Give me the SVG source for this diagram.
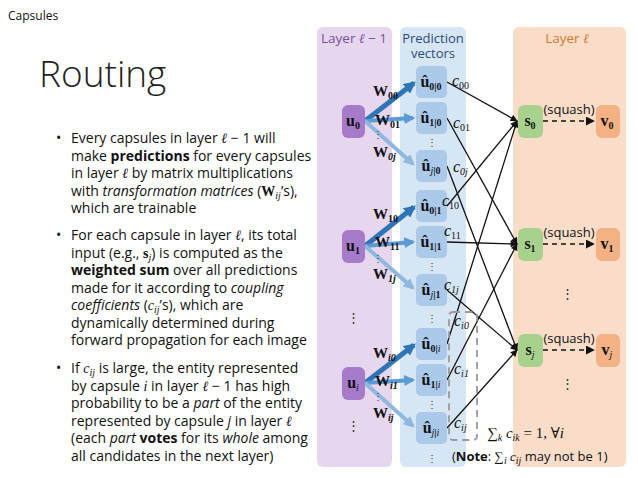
<svg xmlns="http://www.w3.org/2000/svg" width="638" height="478" viewBox="0 0 638 478">
<defs>
<style>
.t{font-family:"Open Sans","Liberation Sans",sans-serif;font-size:14px;fill:#111}
.m{font-family:"Liberation Serif","DejaVu Serif",serif;fill:#111}
.nl{font-family:"Liberation Serif","DejaVu Serif",serif;font-size:16px;font-weight:bold;fill:#111;text-anchor:middle}
.c{font-family:"Liberation Serif","DejaVu Serif",serif;font-size:16px;font-style:italic;fill:#111}
.w{font-family:"Liberation Serif","DejaVu Serif",serif;font-size:15px;font-weight:bold;fill:#111}
.s{font-size:10px}
.dot{font-family:"Liberation Sans",sans-serif;font-size:10px;fill:#333;text-anchor:middle}
.blk{stroke:#111;stroke-width:1.3;fill:none;marker-end:url(#ah)}
</style>
<marker id="ah" viewBox="0 0 10 10" refX="9" refY="5" markerWidth="8" markerHeight="7" markerUnits="userSpaceOnUse" orient="auto"><path d="M0,0L10,5L0,10z" fill="#111"/></marker>
<marker id="ab1" viewBox="0 0 10 10" refX="8" refY="5" markerWidth="12" markerHeight="12" markerUnits="userSpaceOnUse" orient="auto"><path d="M0,0L10,5L0,10z" fill="#2e75b6"/></marker>
<marker id="ab2" viewBox="0 0 10 10" refX="8" refY="5" markerWidth="11" markerHeight="11" markerUnits="userSpaceOnUse" orient="auto"><path d="M0,0L10,5L0,10z" fill="#5b9bd5"/></marker>
<marker id="ab3" viewBox="0 0 10 10" refX="8" refY="5" markerWidth="11" markerHeight="11" markerUnits="userSpaceOnUse" orient="auto"><path d="M0,0L10,5L0,10z" fill="#8fb8e0"/></marker>
<marker id="ad" viewBox="0 0 10 10" refX="9" refY="5" markerWidth="9" markerHeight="9" markerUnits="userSpaceOnUse" orient="auto"><path d="M0,0L10,5L0,10z" fill="#111"/></marker>
</defs>
<rect width="638" height="478" fill="#fff"/>
<text x="8" y="20" class="t" style="font-size:12px">Capsules</text>
<text x="39" y="87" style="font-family:'Open Sans','Liberation Sans',sans-serif;font-size:37px;font-weight:300;fill:#222">Routing</text>

<g id="bullets" class="t">
<text x="56" y="143">•</text><text x="56" y="240">•</text><text x="56" y="373">•</text>
<text x="71" y="143">Every capsules in layer <tspan class="m" font-style="italic">ℓ</tspan> − 1 will</text>
<text x="71" y="161">make <tspan font-weight="bold">predictions</tspan> for every capsules</text>
<text x="71" y="178">in layer <tspan class="m" font-style="italic">ℓ</tspan>  by matrix multiplications</text>
<text x="71" y="196">with <tspan font-style="italic">transformation matrices</tspan> (<tspan class="m" font-weight="bold">W</tspan><tspan class="m s" font-style="italic" dy="3">ij</tspan><tspan dy="-3">’s),</tspan></text>
<text x="71" y="213">which are trainable</text>
<text x="71" y="240">For each capsule in layer <tspan class="m" font-style="italic">ℓ</tspan>, its total</text>
<text x="71" y="258">input (e.g., <tspan class="m" font-weight="bold">s</tspan><tspan class="m s" font-style="italic" dy="3">j</tspan><tspan dy="-3">) is computed as the</tspan></text>
<text x="71" y="275"><tspan font-weight="bold">weighted sum</tspan> over all predictions</text>
<text x="71" y="293">made for it according to <tspan font-style="italic">coupling</tspan></text>
<text x="71" y="310"><tspan font-style="italic">coefficients</tspan> (<tspan class="m" font-style="italic">c</tspan><tspan class="m s" font-style="italic" dy="3">ij</tspan><tspan dy="-3">’s), which are</tspan></text>
<text x="71" y="328">dynamically determined during</text>
<text x="71" y="345">forward propagation for each image</text>
<text x="71" y="373">If <tspan class="m" font-style="italic">c</tspan><tspan class="m s" font-style="italic" dy="3">ij</tspan><tspan dy="-3"> is large, the entity represented</tspan></text>
<text x="71" y="391">by capsule <tspan class="m" font-style="italic">i</tspan> in layer <tspan class="m" font-style="italic">ℓ</tspan> − 1 has high</text>
<text x="71" y="408">probability to be a <tspan font-style="italic">part</tspan> of the entity</text>
<text x="71" y="426">represented by capsule <tspan font-style="italic">j</tspan> in layer <tspan class="m" font-style="italic">ℓ</tspan></text>
<text x="71" y="443">(each <tspan font-style="italic">part</tspan> <tspan font-weight="bold">votes</tspan> for its <tspan font-style="italic">whole</tspan> among</text>
<text x="71" y="461">all candidates in the next layer)</text>
</g>

<g id="panels">
<rect x="317" y="27" width="75" height="440" rx="6" fill="#e6d7ef"/>
<rect x="400" y="27" width="66" height="440" rx="6" fill="#d6e6f5"/>
<rect x="513" y="27" width="113" height="440" rx="6" fill="#f9ddc9"/>
<text x="354" y="43" class="t" text-anchor="middle" style="fill:#7a4fa0;font-size:13.5px">Layer <tspan class="m" font-style="italic" style="fill:#7a4fa0">ℓ</tspan> − 1</text>
<text x="433" y="43" class="t" text-anchor="middle" style="fill:#2e4a7a;font-size:13px">Prediction</text>
<text x="433" y="58" class="t" text-anchor="middle" style="fill:#2e4a7a;font-size:13px">vectors</text>
<text x="567" y="43" class="t" text-anchor="middle" style="fill:#d07a30;font-size:13.5px">Layer <tspan class="m" font-style="italic" style="fill:#d07a30">ℓ</tspan></text>
</g>

<g id="connectors">
<g fill="none">
<line x1="365" y1="121" x2="414" y2="83" stroke="#2e75b6" stroke-width="5" marker-end="url(#ab1)"/>
<line x1="365" y1="121" x2="413" y2="118" stroke="#5b9bd5" stroke-width="4" marker-end="url(#ab2)"/>
<line x1="365" y1="121" x2="413" y2="164" stroke="#8fb8e0" stroke-width="4" marker-end="url(#ab3)"/>
<line x1="365" y1="246" x2="414" y2="207" stroke="#2e75b6" stroke-width="5" marker-end="url(#ab1)"/>
<line x1="365" y1="246" x2="413" y2="242" stroke="#5b9bd5" stroke-width="4" marker-end="url(#ab2)"/>
<line x1="365" y1="246" x2="413" y2="288" stroke="#8fb8e0" stroke-width="4" marker-end="url(#ab3)"/>
<line x1="365" y1="383" x2="414" y2="345" stroke="#2e75b6" stroke-width="5" marker-end="url(#ab1)"/>
<line x1="365" y1="383" x2="413" y2="380" stroke="#5b9bd5" stroke-width="4" marker-end="url(#ab2)"/>
<line x1="365" y1="383" x2="413" y2="426" stroke="#8fb8e0" stroke-width="4" marker-end="url(#ab3)"/>
</g>
<line class="blk" x1="447" y1="82" x2="517" y2="121"/>
<line class="blk" x1="447" y1="118" x2="517" y2="244"/>
<line class="blk" x1="447" y1="166" x2="517" y2="350"/>
<line class="blk" x1="447" y1="206" x2="517" y2="121"/>
<line class="blk" x1="447" y1="242" x2="517" y2="244"/>
<line class="blk" x1="447" y1="290" x2="517" y2="350"/>
<line class="blk" x1="447" y1="344" x2="517" y2="121"/>
<line class="blk" x1="447" y1="380" x2="517" y2="244"/>
<line class="blk" x1="447" y1="428" x2="517" y2="350"/>
<g stroke="#111" stroke-width="1.5" stroke-dasharray="5,4" fill="none">
<line x1="543" y1="121" x2="594" y2="121" marker-end="url(#ad)"/>
<line x1="543" y1="244" x2="594" y2="244" marker-end="url(#ad)"/>
<line x1="543" y1="350" x2="594" y2="350" marker-end="url(#ad)"/>
</g>
<rect x="449" y="312" width="28" height="128" rx="4" fill="none" stroke="#999" stroke-width="1.8" stroke-dasharray="7,5"/>
</g>

<g id="n-u0"><rect x="342" y="105" width="23" height="33" rx="6" fill="#a67bca"/><text x="353" y="126" class="nl">u<tspan class="s" dy="3">0</tspan></text></g>
<g id="n-u1"><rect x="342" y="230" width="23" height="33" rx="6" fill="#a67bca"/><text x="353" y="251" class="nl">u<tspan class="s" dy="3">1</tspan></text></g>
<g id="n-ui"><rect x="342" y="367" width="23" height="33" rx="6" fill="#a67bca"/><text x="353" y="388" class="nl">u<tspan class="s" dy="3" font-style="italic" font-weight="normal">i</tspan></text></g>

<g id="n-u00"><rect x="416" y="66" width="31" height="32" rx="5" fill="#abc9e8"/><text x="431" y="87" class="nl">û<tspan class="s" dy="3">0|0</tspan></text></g>
<g id="n-u10"><rect x="416" y="102" width="31" height="32" rx="5" fill="#abc9e8"/><text x="431" y="123" class="nl">û<tspan class="s" dy="3">1|0</tspan></text></g>
<g id="n-uj0"><rect x="416" y="150" width="31" height="32" rx="5" fill="#abc9e8"/><text x="431" y="171" class="nl">û<tspan class="s" dy="3"><tspan font-style="italic" font-weight="normal">j</tspan>|0</tspan></text></g>
<g id="n-u01"><rect x="416" y="190" width="31" height="32" rx="5" fill="#abc9e8"/><text x="431" y="211" class="nl">û<tspan class="s" dy="3">0|1</tspan></text></g>
<g id="n-u11"><rect x="416" y="226" width="31" height="32" rx="5" fill="#abc9e8"/><text x="431" y="247" class="nl">û<tspan class="s" dy="3">1|1</tspan></text></g>
<g id="n-uj1"><rect x="416" y="274" width="31" height="32" rx="5" fill="#abc9e8"/><text x="431" y="295" class="nl">û<tspan class="s" dy="3"><tspan font-style="italic" font-weight="normal">j</tspan>|1</tspan></text></g>
<g id="n-u0i"><rect x="416" y="328" width="31" height="32" rx="5" fill="#abc9e8"/><text x="431" y="349" class="nl">û<tspan class="s" dy="3">0|<tspan font-style="italic" font-weight="normal">i</tspan></tspan></text></g>
<g id="n-u1i"><rect x="416" y="364" width="31" height="32" rx="5" fill="#abc9e8"/><text x="431" y="385" class="nl">û<tspan class="s" dy="3">1|<tspan font-style="italic" font-weight="normal">i</tspan></tspan></text></g>
<g id="n-uji"><rect x="416" y="412" width="31" height="32" rx="5" fill="#abc9e8"/><text x="431" y="433" class="nl">û<tspan class="s" dy="3"><tspan font-style="italic" font-weight="normal">j</tspan>|<tspan font-style="italic" font-weight="normal">i</tspan></tspan></text></g>

<g id="n-s0"><rect x="518" y="105" width="25" height="33" rx="6" fill="#a9d18e"/><text x="530" y="126" class="nl">s<tspan class="s" dy="3">0</tspan></text></g>
<g id="n-s1"><rect x="518" y="228" width="25" height="33" rx="6" fill="#a9d18e"/><text x="530" y="249" class="nl">s<tspan class="s" dy="3">1</tspan></text></g>
<g id="n-sj"><rect x="518" y="334" width="25" height="33" rx="6" fill="#a9d18e"/><text x="530" y="355" class="nl">s<tspan class="s" dy="3" font-style="italic" font-weight="normal">j</tspan></text></g>
<g id="n-v0"><rect x="596" y="105" width="24" height="33" rx="6" fill="#f4b183"/><text x="607" y="126" class="nl">v<tspan class="s" dy="3">0</tspan></text></g>
<g id="n-v1"><rect x="596" y="228" width="24" height="33" rx="6" fill="#f4b183"/><text x="607" y="249" class="nl">v<tspan class="s" dy="3">1</tspan></text></g>
<g id="n-vj"><rect x="596" y="334" width="24" height="33" rx="6" fill="#f4b183"/><text x="607" y="355" class="nl">v<tspan class="s" dy="3" font-style="italic" font-weight="normal">j</tspan></text></g>

<g id="labels">
<text x="373" y="96" class="w">W<tspan class="s" dy="3">00</tspan></text>
<text x="375" y="125" class="w">W<tspan class="s" dy="3">01</tspan></text>
<text x="373" y="157" class="w">W<tspan class="s" dy="3" font-style="italic">0j</tspan></text>
<text x="373" y="219" class="w">W<tspan class="s" dy="3">10</tspan></text>
<text x="375" y="247" class="w">W<tspan class="s" dy="3">11</tspan></text>
<text x="373" y="279" class="w">W<tspan class="s" dy="3" font-style="italic">1j</tspan></text>
<text x="373" y="358" class="w">W<tspan class="s" dy="3" font-style="italic">i0</tspan></text>
<text x="375" y="386" class="w">W<tspan class="s" dy="3" font-style="italic">i1</tspan></text>
<text x="373" y="418" class="w">W<tspan class="s" dy="3" font-style="italic">ij</tspan></text>
<text x="452" y="86" class="c">c<tspan class="s" dy="3" font-style="normal">00</tspan></text>
<text x="453" y="128" class="c">c<tspan class="s" dy="3" font-style="normal">01</tspan></text>
<text x="453" y="172" class="c">c<tspan class="s" dy="3">0j</tspan></text>
<text x="442" y="206" class="c">c<tspan class="s" dy="3" font-style="normal">10</tspan></text>
<text x="444" y="236" class="c">c<tspan class="s" dy="3" font-style="normal">11</tspan></text>
<text x="444" y="290" class="c">c<tspan class="s" dy="3">1j</tspan></text>
<text x="454" y="326" class="c">c<tspan class="s" dy="3">i0</tspan></text>
<text x="454" y="374" class="c">c<tspan class="s" dy="3">i1</tspan></text>
<text x="454" y="428" class="c">c<tspan class="s" dy="3">ij</tspan></text>
<text x="569" y="114" class="t" text-anchor="middle" style="font-size:13px">(squash)</text>
<text x="569" y="237" class="t" text-anchor="middle" style="font-size:13px">(squash)</text>
<text x="569" y="343" class="t" text-anchor="middle" style="font-size:13px">(squash)</text>
<text x="487" y="438" class="m" style="font-size:15px">∑<tspan font-style="italic" class="s" dy="3">k</tspan><tspan dy="-3" font-style="italic"> c</tspan><tspan font-style="italic" class="s" dy="3">ik</tspan><tspan dy="-3"> = 1, ∀</tspan><tspan font-style="italic">i</tspan></text>
<text x="452" y="461" class="t" style="font-size:13px">(<tspan font-weight="bold">Note</tspan>: <tspan class="m">∑</tspan><tspan class="m s" font-style="italic" dy="3">i</tspan><tspan class="m" font-style="italic" dy="-3"> c</tspan><tspan class="m s" font-style="italic" dy="3">ij</tspan><tspan dy="-3"> may not be 1)</tspan></text>
<g class="dot">
<text x="378" y="138">⋮</text><text x="378" y="262">⋮</text><text x="378" y="400">⋮</text>
<text x="432" y="146">⋮</text><text x="432" y="270">⋮</text><text x="432" y="322">⋮</text><text x="432" y="408">⋮</text><text x="432" y="462">⋮</text>
<text x="353" y="322" style="font-size:13px">⋮</text><text x="353" y="430" style="font-size:13px">⋮</text>
<text x="567" y="298" style="font-size:13px">⋮</text><text x="567" y="388" style="font-size:13px">⋮</text>
</g>
</g>
</svg>
